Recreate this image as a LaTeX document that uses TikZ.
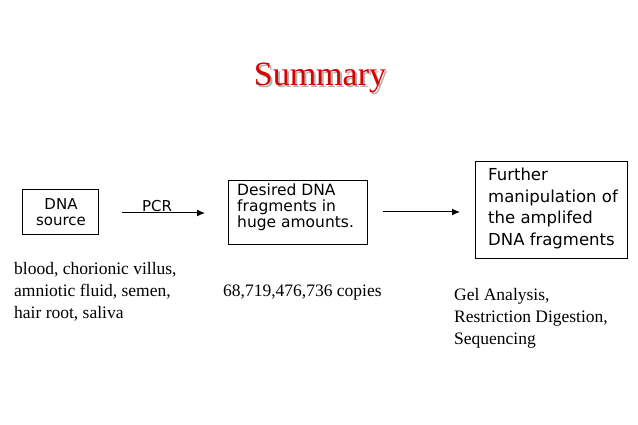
\documentclass[tikz,border=0pt]{standalone}
\usepackage{fontspec}
\setmainfont{Liberation Serif}
\newfontfamily\ssf{DejaVu Sans}
\usetikzlibrary{arrows.meta}
\begin{document}
\begin{tikzpicture}[x=1pt,y=-1pt,
 box/.style={draw,line width=1pt,inner sep=0pt},
 bt/.style={font=\ssf\fontsize{15.5}{16}\selectfont,align=left,anchor=north west,inner sep=0pt},
 st/.style={font=\fontsize{17.5}{22}\selectfont,align=left,anchor=north west,inner sep=0pt},
 arr/.style={line width=1pt,-{Latex[length=8pt,width=7pt]}}]
\useasboundingbox (0,0) rectangle (638,425);
\node[font=\fontsize{34}{34}\selectfont,text=gray!60] at (322,80) {Summary};
\node[font=\fontsize{34}{34}\selectfont,text=red!85!black] (title) at (320,78) {Summary};
\draw[box] (22,190) rectangle (98,235);
\node[font=\ssf\fontsize{15}{16}\selectfont,align=center] (a) at (61,212) {DNA\\source};
\coordinate (a1) at (122,213);
\node[font=\ssf\fontsize{15}{14}\selectfont] (pcr) at (157,206) {PCR};
\draw[box] (228,181) rectangle (367,245);
\node[bt] (b) at (237,184) {Desired DNA\\fragments in\\huge amounts.};
\coordinate (b0) at (205,213);
\draw[arr] (a1) -- (b0);
\coordinate (c0) at (383,212);
\coordinate (c1) at (460,212);
\draw[arr] (c0) -- (c1);
\draw[box] (475,162) rectangle (627,259);
\node[font=\ssf\fontsize{16.5}{21.5}\selectfont,align=left,anchor=north west,inner sep=0pt] (c) at (488,168) {Further\\manipulation of\\the amplifed\\DNA fragments};
\node[st] (l) at (14,262) {blood, chorionic villus,\\amniotic fluid, semen,\\hair root, saliva};
\node[st] (m) at (223,285) {68,719,476,736 copies};
\node[st] (r) at (454,288) {Gel Analysis,\\Restriction Digestion,\\Sequencing};
\end{tikzpicture}
\end{document}
